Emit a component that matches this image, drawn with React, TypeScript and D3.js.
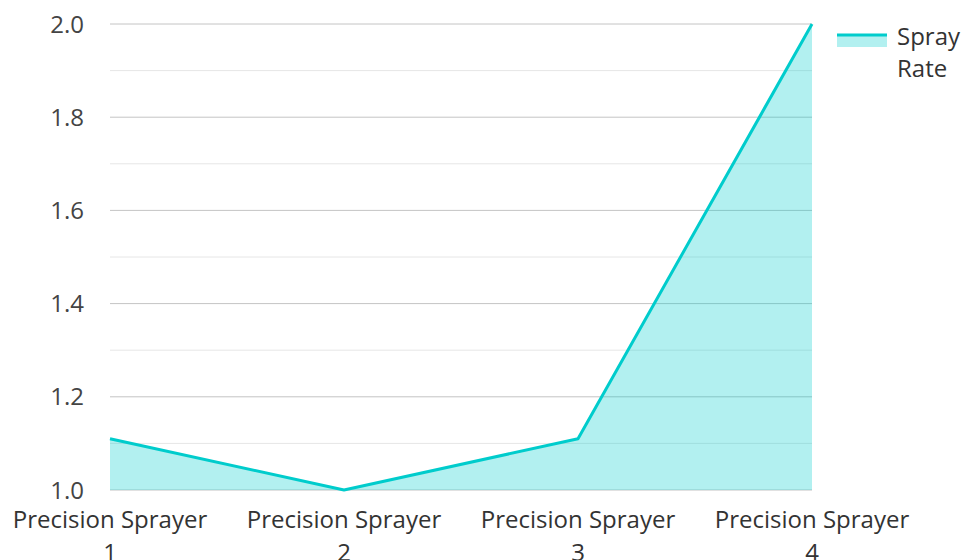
import React from "react";
import * as d3 from "d3";

const categories = ["Precision Sprayer 1", "Precision Sprayer 2", "Precision Sprayer 3", "Precision Sprayer 4"];
const sprayRate = [1.11, 1.0, 1.11, 2.0];
const yTicks = [1.0, 1.2, 1.4, 1.6, 1.8, 2.0];
const yMinorTicks = [1.1, 1.3, 1.5, 1.7, 1.9];
const seriesName = ["Spray", "Rate"];

const W = 962, H = 560;
const left = 110, right = 812, top = 24, bottom = 490;
const FONT = "'Open Sans', sans-serif";
const LINE = "#00cccc";

export default function App() {
  const x = d3.scalePoint<string>().domain(categories).range([left, right]);
  const y = d3.scaleLinear().domain([1.0, 2.0]).range([bottom, top]);
  const pts = categories.map((c, i) => [x(c)!, y(sprayRate[i])] as [number, number]);
  const line = d3.line()(pts)!;
  const area = d3.area<[number, number]>().x(d => d[0]).y0(y(1.0)).y1(d => d[1])(pts)!;

  return (
    <svg width={W} height={H} style={{ position: "absolute", left: 0, top: 0 }} fontFamily={FONT}>
      {yMinorTicks.map(t => (
        <line key={"m" + t} x1={left} x2={right} y1={y(t)} y2={y(t)} stroke="#e6e6e6" strokeWidth={1} />
      ))}
      {yTicks.map(t => (
        <line key={"g" + t} x1={left} x2={right} y1={y(t)} y2={y(t)} stroke="#c4c4c4" strokeWidth={1} />
      ))}
      <path d={area} fill={LINE} fillOpacity={0.3} />
      <path d={line} fill="none" stroke={LINE} strokeWidth={3} strokeLinejoin="round" />
      {yTicks.map(t => (
        <text key={"t" + t} x={84} y={y(t)} dy="0.36em" textAnchor="end" fontSize={24} fill="#444">
          {t.toFixed(1)}
        </text>
      ))}
      {categories.map(c => {
        const words = c.split(" ");
        const l1 = words.slice(0, -1).join(" ");
        const l2 = words[words.length - 1];
        return (
          <text key={c} x={x(c)} textAnchor="middle" fontSize={24} fill="#333">
            <tspan x={x(c)} y={528}>{l1}</tspan>
            <tspan x={x(c)} y={561}>{l2}</tspan>
          </text>
        );
      })}
      <rect x={837} y={34} width={50} height={13} fill={LINE} fillOpacity={0.3} />
      <line x1={837} x2={887} y1={35} y2={35} stroke={LINE} strokeWidth={3} />
      <text fontSize={24} fill="#333">
        <tspan x={897} y={45}>{seriesName[0]}</tspan>
        <tspan x={897} y={77}>{seriesName[1]}</tspan>
      </text>
    </svg>
  );
}
